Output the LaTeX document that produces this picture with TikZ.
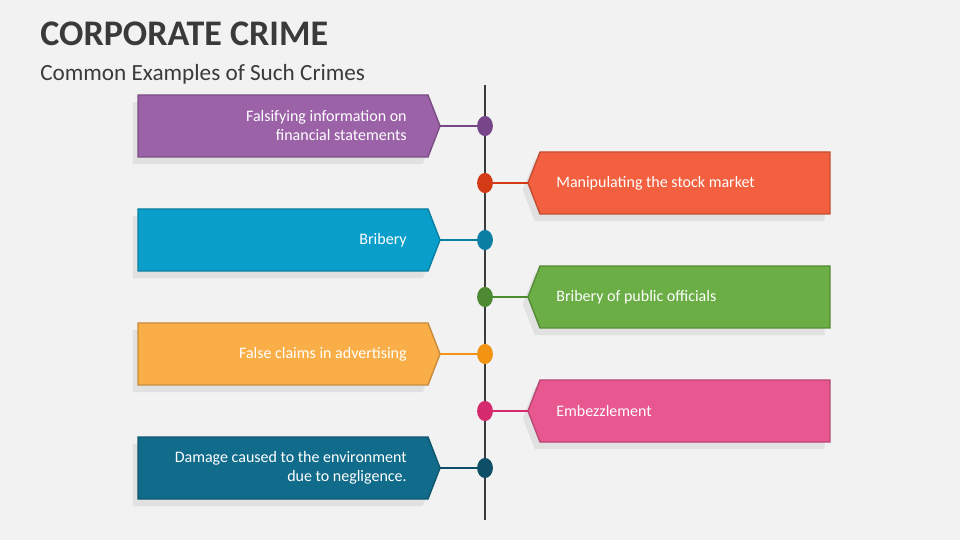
\documentclass[tikz,border=0pt]{standalone}
\usepackage{fontspec}
\setmainfont{Carlito}
\usetikzlibrary{shadows}
\definecolor{bgcol}{HTML}{F2F2F2}
\definecolor{titcol}{HTML}{3A3A3A}
\definecolor{cA}{HTML}{9B62A8}\definecolor{dA}{HTML}{764688}
\definecolor{cB}{HTML}{F2603F}\definecolor{dB}{HTML}{D33A16}
\definecolor{cC}{HTML}{0A9ECB}\definecolor{dC}{HTML}{0A7EA3}
\definecolor{cD}{HTML}{6AAE45}\definecolor{dD}{HTML}{4E8A32}
\definecolor{cE}{HTML}{FAAE48}\definecolor{dE}{HTML}{F29312}
\definecolor{cF}{HTML}{E95790}\definecolor{dF}{HTML}{D62A6E}
\definecolor{cG}{HTML}{116B8A}\definecolor{dG}{HTML}{0E4E66}
\tikzset{
  tag/.style={draw=#1!80!black, fill=#1, line width=0.8pt,
    drop shadow={shadow xshift=-3pt, shadow yshift=-4pt, opacity=0.15}},
  dot/.style={ellipse, fill=#1, minimum width=9pt, minimum height=11.5pt, inner sep=0pt},
  lbl/.style={text=white, font=\fontsize{9.1}{10.8}\selectfont, inner sep=0pt},
}
\usetikzlibrary{shapes.geometric}
\begin{document}
\begin{tikzpicture}[x=0.02cm, y=-0.02cm]
  \useasboundingbox[fill=bgcol] (0,0) rectangle (960,540);
  \node[anchor=west, inner sep=0pt, text=titcol, font=\fontsize{20.5}{24}\selectfont\bfseries] (title) at (40,34) {CORPORATE CRIME};
  \node[anchor=west, inner sep=0pt, text=titcol, font=\fontsize{13.2}{15}\selectfont] (sub) at (40,74) {Common Examples of Such Crimes};

  \coordinate (top) at (485,85);
  \coordinate (bot) at (485,520);
  \draw[titcol, line width=1.2pt] (top) -- (bot);

  % left side
  \foreach \y/\c/\t [count=\i] in {126/A/{Falsifying information on\\financial statements},
      240/C/{Bribery}, 354/E/{False claims in advertising},
      468/G/{Damage caused to the environment\\due to negligence.}} {
    \draw[tag=c\c] (138,\y-31) -- (428,\y-31) -- (440,\y) -- (428,\y+31) -- (138,\y+31) -- cycle;
    \coordinate (tipL\i) at (440,\y);
    \node[lbl, anchor=east, align=right] (txtL\i) at (407,\y) {\t};
    \node[dot=d\c] (dotL\i) at (485,\y) {};
    \draw[d\c, line width=1.2pt] (tipL\i) -- (dotL\i);
  }
  % right side
  \foreach \y/\c/\t [count=\i] in {183/B/{Manipulating the stock market},
      297/D/{Bribery of public officials}, 411/F/{Embezzlement}} {
    \draw[tag=c\c] (528,\y) -- (540,\y-31) -- (830,\y-31) -- (830,\y+31) -- (540,\y+31) -- cycle;
    \coordinate (tipR\i) at (528,\y);
    \node[lbl, anchor=west, align=left] (txtR\i) at (556,\y) {\t};
    \node[dot=d\c] (dotR\i) at (485,\y) {};
    \draw[d\c, line width=1.2pt] (dotR\i) -- (tipR\i);
  }
\end{tikzpicture}
\end{document}
